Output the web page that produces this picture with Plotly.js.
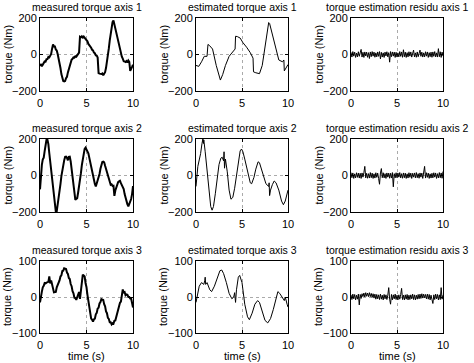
<!DOCTYPE html>
<html><head><meta charset="utf-8">
<script src="https://cdn.plot.ly/plotly-3.0.1.min.js"></script>
<style>html,body{margin:0;padding:0;background:#fff}#chart{width:474px;height:363px}</style>
</head><body><div id="chart"></div>
<script>
const time = [0,0.1,0.2,0.3,0.4,0.5,0.6,0.7,0.8,0.9,1,1.1,1.2,1.3,1.4,1.5,1.6,1.7,1.8,1.9,2,2.1,2.2,2.3,2.4,2.5,2.6,2.7,2.8,2.9,3,3.1,3.2,3.3,3.4,3.5,3.6,3.7,3.8,3.9,4,4.1,4.2,4.3,4.4,4.5,4.6,4.7,4.8,4.9,5,5.1,5.2,5.3,5.4,5.5,5.6,5.7,5.8,5.9,6,6.1,6.2,6.3,6.4,6.5,6.6,6.7,6.8,6.9,7,7.1,7.2,7.3,7.4,7.5,7.6,7.7,7.8,7.9,8,8.1,8.2,8.3,8.4,8.5,8.6,8.7,8.8,8.9,9,9.1,9.2,9.3,9.4,9.5,9.6,9.7,9.8,9.9,10];

const measured1 = [-62,-56,-65,-55,-50,-38,-39,-26,-25,-13,
 -16,-3,3,32,55,45,44,27,22,3,
 -18,-52,-74,-107,-126,-145,-147,-145,-130,-122,
 -98,-80,-56,-44,-28,-24,-16,-17,-10,-12,
 -3,-2,10,97,94,100,93,98,91,88,
 76,72,58,52,40,37,26,22,10,7,
 -5,-6,-17,-102,-105,-107,-107,-104,-114,-105,
 -97,-73,-42,2,33,77,113,152,178,187,
 163,144,116,97,70,52,28,12,-12,-23,
 -37,-38,-41,-36,-44,-33,-40,-90,-73,-68,
 -56];
const measured2 = [-76,2,58,88,98,133,168,197,196,172,
 122,72,13,-28,-82,-128,-177,-198,-196,-163,
 -133,-88,-47,-3,31,62,83,102,103,97,
 83,102,103,77,31,-18,-72,-108,-133,-128,
 -124,-93,-62,-18,13,57,88,127,146,153,
 138,132,122,97,63,42,13,-8,-32,-46,
 -60,-43,-30,-11,8,37,53,74,76,72,
 53,37,13,2,-17,-33,-51,-48,-57,-56,
 -112,-82,-65,-52,-36,-32,-29,-42,-53,-67,
 -74,-102,-123,-147,-158,-169,-158,-147,-129,-102,
 -58];
const measured3 = [-15,6,15,27,31,39,38,40,41,42,
 57,38,46,28,24,13,13,14,27,33,
 44,46,57,60,72,73,80,78,78,68,
 64,53,50,36,30,16,10,-2,-3,-8,
 -2,3,14,-5,22,43,62,60,57,38,
 27,6,-9,-32,-43,-60,-63,-68,-62,-60,
 -48,-44,-32,-30,-18,-14,-6,-8,-8,-20,
 -26,-40,-45,-58,-61,-70,-70,-76,-73,-74,
 -66,-65,-54,-50,-36,-30,-16,-13,2,21,
 13,14,5,7,6,0,0,-4,-4,-18,
 -29];

const estTime1 = [0,0.3,0.6,0.9,1.2,1.3,1.45,1.8,2.2,2.5,2.65,2.9,3.2,3.6,4.0,4.25,4.3,4.5,4.8,5.1,5.5,5.9,6.2,6.25,6.5,6.9,7.2,7.5,7.9,8.0,8.3,8.7,9.0,9.4,9.55,9.6,9.8,10];
const estimated1 = [-60,-65,-40,-10,-10,55,50,30,-60,-125,-140,-110,-60,-10,15,30,100,98,90,65,40,10,-20,-95,-100,-105,-60,50,175,170,110,20,-30,-40,-30,-90,-70,-55];
const estTime2 = [0,0.1,0.2,0.35,0.5,0.65,0.75,0.8,0.85,1.0,1.2,1.4,1.6,1.75,1.9,2.1,2.3,2.5,2.7,2.85,3.0,3.05,3.1,3.2,3.4,3.6,3.8,4.0,4.2,4.4,4.6,4.8,4.95,5.1,5.3,5.5,5.7,5.9,6.05,6.3,6.5,6.75,6.9,7.1,7.3,7.6,7.9,7.95,8.0,8.1,8.3,8.5,8.7,9.0,9.3,9.5,9.7,9.85,10];
const estimated2 = [-60,0,50,85,120,175,200,175,195,130,20,-90,-170,-190,-170,-100,-10,60,95,100,80,130,40,90,20,-80,-130,-120,-70,0,80,135,145,130,90,40,-10,-40,-45,-10,35,75,70,35,0,-45,-60,-40,-110,-80,-50,-30,-40,-80,-140,-160,-140,-110,-80];
const estTime3 = [0,0.15,0.35,0.6,0.85,0.95,1.0,1.05,1.2,1.5,1.7,2.0,2.3,2.6,2.8,3.0,3.3,3.6,3.9,4.1,4.2,4.25,4.3,4.4,4.6,4.75,5.0,5.3,5.6,5.8,6.1,6.4,6.7,6.9,7.2,7.5,7.8,8.1,8.4,8.7,8.9,9.1,9.4,9.6,9.7,9.8,9.9,10];
const estimated3 = [-15,10,30,40,35,45,55,35,40,20,15,30,55,73,75,65,40,10,-5,0,12,-10,-15,20,55,60,40,-20,-55,-63,-45,-20,-10,-15,-40,-65,-72,-60,-35,-5,15,10,0,-10,0,-15,-20,-28];

const residu1 = [12,-14,16,-9,13,-16,8,-13,15,-10,
 9,28,-14,12,-16,14,-8,13,-15,10,
 -22,14,-12,16,-9,13,-15,9,-13,14,
 -10,16,-24,12,-14,9,-16,13,-8,15,
 -13,10,-42,16,-12,14,-9,13,-16,12,
 -14,9,-13,16,-10,14,-15,26,-12,13,
 -16,10,-13,15,-9,14,-14,12,24,-13,
 9,-15,14,-12,16,24,-10,13,-14,9,
 -13,15,-9,14,-16,10,-12,13,-15,14,
 -10,16,-13,9,-14,32,-12,15,-16,13,
 -9];
const residu2 = [16,-12,14,-16,9,-13,15,-10,13,-14,
 12,-16,14,-9,16,50,-13,12,-15,10,
 -14,16,-12,13,-16,9,-14,15,-10,13,
 -16,-48,14,38,-12,15,-13,10,-16,14,
 -9,13,-15,12,-14,16,-62,10,-13,15,
 -12,14,-9,16,-13,10,-15,14,-12,13,
 -16,9,-14,15,-10,13,-16,12,-9,14,
 -13,16,-12,10,-15,14,-9,13,-16,12,
 50,-14,15,-10,13,-16,9,-14,12,-13,
 15,-9,14,-16,10,-13,16,-12,14,-15,
 22];
const residu3 = [6,-7,8,-5,7,-8,5,-6,8,-22,
 7,-4,9,1,11,0,12,2,11,1,
 12,1,10,-1,9,-3,8,-6,7,-5,
 6,-7,8,-6,5,-8,7,-5,6,-7,
 5,26,-6,-20,7,-8,6,-5,8,-7,
 5,-8,6,-6,7,24,-7,5,-8,6,
 -6,7,-8,5,-7,6,-5,8,-7,6,
 -8,5,-6,7,-5,8,-4,9,-3,8,
 -2,7,-5,8,-6,7,-8,5,-7,-18,
 6,-7,8,-5,7,-8,6,-7,26,-6,
 5];

const titles = ["measured torque axis 1","estimated torque axis 1","torque estimation residu axis 1",
 "measured torque axis 2","estimated torque axis 2","torque estimation residu axis 2",
 "measured torque axis 3","estimated torque axis 3","torque estimation residu axis 3"];
const xTicks = [0,5,10];
const yTicks12 = [-200,0,200];
const yTicks3 = [-100,0,100];
const xLabel = "time (s)";
const yLabel = "torque (Nm)";

const W = 474, H = 363;
const colPx = [[40,133],[196,288],[351,443]];
const rowPx = [[18,91],[139,212],[261,333]];
const FONT = "Liberation Sans, Arial, Helvetica, sans-serif";

const series = [
 [time, measured1, 2], [estTime1, estimated1, 1], [time, residu1, 1],
 [time, measured2, 2], [estTime2, estimated2, 1], [time, residu2, 1],
 [time, measured3, 2], [estTime3, estimated3, 1], [time, residu3, 1]
];

const data = [];
const layout = {
 width: W, height: H, margin: {l:0,r:0,t:0,b:0},
 paper_bgcolor: "#fff", plot_bgcolor: "#fff", showlegend: false,
 font: {family: FONT, size: 11, color: "#000"},
 annotations: []
};

for (let i = 0; i < 9; i++) {
 const r = Math.floor(i/3), c = i%3;
 const k = i === 0 ? "" : String(i+1);
 data.push({x: series[i][0], y: series[i][1], type: "scatter", mode: "lines",
   line: {color: "#000", width: series[i][2]}, xaxis: "x"+k, yaxis: "y"+k, hoverinfo: "skip"});
 const yt = r < 2 ? yTicks12 : yTicks3;
 const common = {showline: true, linecolor: "#000", linewidth: 1, mirror: "ticks",
   ticks: "inside", ticklen: 3, tickcolor: "#000", zeroline: false,
   showgrid: true, gridcolor: "#aaa", griddash: "dot", gridwidth: 1,
   tickfont: {family: FONT, size: 11, color: "#000"}, fixedrange: true};
 layout["xaxis"+k] = Object.assign({}, common, {
   domain: [colPx[c][0]/W, colPx[c][1]/W], range: [0,10], tickvals: xTicks,
   anchor: "y"+k, ticklabelstandoff: 2});
 layout["yaxis"+k] = Object.assign({}, common, {
   domain: [1-rowPx[r][1]/H, 1-rowPx[r][0]/H], range: [yt[0], yt[2]], tickvals: yt,
   anchor: "x"+k});
 layout.annotations.push({text: titles[i], xref: "paper", yref: "paper",
   x: (colPx[c][0]+colPx[c][1])/2/W, y: 1-(rowPx[r][0]-11)/H, xanchor: "center", yanchor: "middle",
   showarrow: false, font: {family: FONT, size: 10.5, color: "#000"}});
 layout.annotations.push({text: yLabel, xref: "paper", yref: "paper", textangle: -90,
   x: (colPx[c][0]-33)/W, y: 1-(rowPx[r][0]+rowPx[r][1])/2/H, xanchor: "center", yanchor: "middle",
   showarrow: false, font: {family: FONT, size: 11, color: "#000"}});
 if (r === 2) {
  layout.annotations.push({text: xLabel, xref: "paper", yref: "paper",
   x: (colPx[c][0]+colPx[c][1])/2/W, y: 1-356/H, xanchor: "center", yanchor: "middle",
   showarrow: false, font: {family: FONT, size: 11, color: "#000"}});
 }
}

Plotly.newPlot("chart", data, layout, {staticPlot: true, displayModeBar: false});
</script></body></html>
